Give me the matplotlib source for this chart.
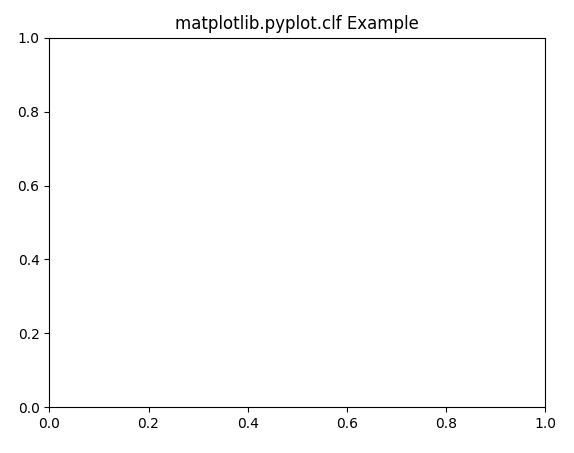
import matplotlib
matplotlib.use("Agg")
import matplotlib.pyplot as plt

# Chart title (the figure has an empty axes, no data series)
title = "matplotlib.pyplot.clf Example"

W, H = 574, 453
fig = plt.figure(figsize=(W / 100, H / 100), dpi=100)
# axes box in pixels: left 49, right 545, top 38, bottom 407
ax = fig.add_axes([49.3 / W, (H - 407.3) / H, 496 / W, 369.6 / H])
ax.set_title(title)

fig.savefig("out.png", dpi=100)
